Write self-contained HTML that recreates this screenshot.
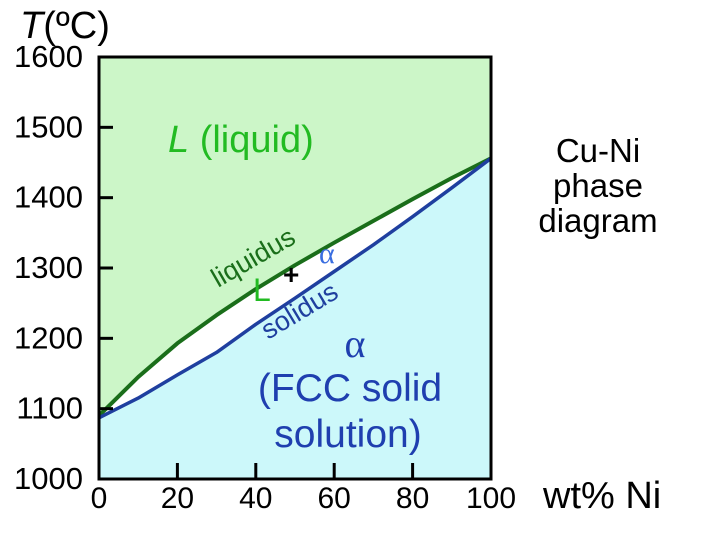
<!DOCTYPE html>
<html><head><meta charset="utf-8"><style>
body{margin:0;background:#fff;}
svg{display:block;font-family:"Liberation Sans",sans-serif;}
</style></head><body>
<svg id="chart" width="720" height="544" viewBox="0 0 720 544">
<g id="plot"></g>
<text x="20" y="38" font-size="38"><tspan font-style="italic">T</tspan>(ºC)</text>
<text x="543" y="508" font-size="38">wt% Ni</text>
<text x="168" y="152" font-size="38" fill="#22bb22"><tspan font-style="italic">L</tspan> (liquid)</text>
<text x="0" y="0" font-size="27" fill="#1a6e1a" transform="translate(218,288) rotate(-30)">liquidus</text>
<text x="0" y="0" font-size="27" fill="#1f3f9f" transform="translate(268,340) rotate(-31)">solidus</text>
<text x="253" y="301" font-size="32" fill="#22bb22">L</text>
<text x="283" y="284" font-size="28" fill="#000" font-weight="bold">+</text>
<text x="319" y="263" font-size="30" fill="#3a6ee0" font-family="Liberation Serif">α</text>
<text x="355" y="357" font-size="40" fill="#1f3faf" font-family="Liberation Serif" text-anchor="middle">α</text>
<text x="350" y="401" font-size="39" fill="#1f3faf" text-anchor="middle">(FCC solid</text>
<text x="348" y="447" font-size="39" fill="#1f3faf" text-anchor="middle">solution)</text>
<g font-size="33" text-anchor="middle">
<text x="598" y="162">Cu-Ni</text>
<text x="598" y="197">phase</text>
<text x="598" y="232">diagram</text>
</g>
</svg>
<script>
const compositions = [0,10,20,30,40,50,60,70,80,90,100];
const liquidusT = [1090,1145,1193,1233,1270,1304,1336,1367,1398,1428,1456];
const solidusT = [1087,1115,1148,1180,1220,1257,1295,1333,1373,1414,1456];
const xTicks = [0,20,40,60,80,100];
const yTicks = [1000,1100,1200,1300,1400,1500,1600];

const X0=99,X1=491,Y0=479,Y1=57;
const sx=v=>X0+(v-0)/100*(X1-X0);
const sy=t=>Y0-(t-1000)/600*(Y0-Y1);
const NS='http://www.w3.org/2000/svg';
const g=document.getElementById('plot');
function mk(tag,attrs,txt){const e=document.createElementNS(NS,tag);for(const k in attrs)e.setAttribute(k,attrs[k]);if(txt!==undefined)e.textContent=txt;g.appendChild(e);return e;}
const liqPts=compositions.map((c,i)=>[sx(c),sy(liquidusT[i])]);
const solPts=compositions.map((c,i)=>[sx(c),sy(solidusT[i])]);
const pstr=p=>p.map(q=>q[0].toFixed(1)+','+q[1].toFixed(1)).join(' ');
let e;
e=mk('rect',{x:X0,y:Y1,width:X1-X0,height:Y0-Y1,fill:'#ccf6c8'});


e=mk('polygon',{points:pstr(liqPts)+' '+pstr(solPts.slice().reverse()),fill:'#ffffff'});


e=mk('polygon',{points:pstr(solPts)+` ${X1},${Y0} ${X0},${Y0}`,fill:'#ccf8fa'});


e=mk('polyline',{points:pstr(liqPts),fill:'none',stroke:'#1a6e1a','stroke-width':4,'stroke-linejoin':'round'});


e=mk('polyline',{points:pstr(solPts),fill:'none',stroke:'#1f3f9f','stroke-width':3.5,'stroke-linejoin':'round'});


e=mk('rect',{x:X0,y:Y1,width:X1-X0,height:Y0-Y1,fill:'none',stroke:'#000','stroke-width':3});


xTicks.forEach(v=>{
  if(v>0&&v<100){e=mk('line',{x1:sx(v),x2:sx(v),y1:Y0,y2:Y0-16,stroke:'#000','stroke-width':3});
  
  }
  e=mk('text',{x:sx(v),y:508,'font-size':30,'text-anchor':'middle'},String(v));
  
  
});
yTicks.forEach(v=>{
  if(v>1000&&v<1600){e=mk('line',{x1:X0,x2:X0+14,y1:sy(v),y2:sy(v),stroke:'#000','stroke-width':3});
  
  }
  e=mk('text',{x:83,y:sy(v)+10,'font-size':31,'text-anchor':'end'},String(v));
  
  
});
</script>
</body></html>
